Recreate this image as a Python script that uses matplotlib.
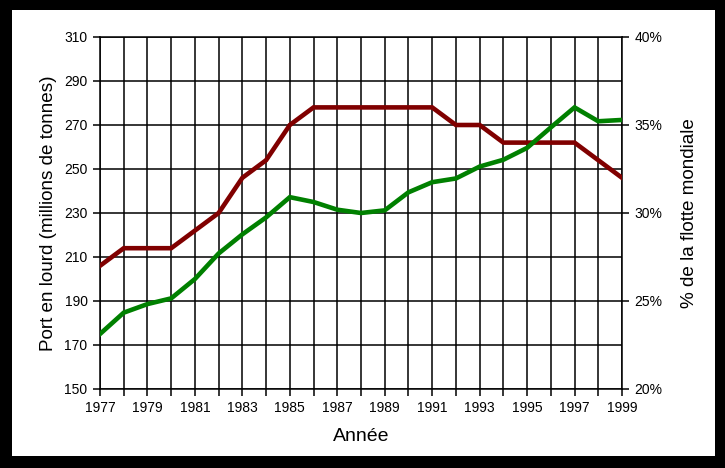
import numpy as np
import matplotlib.pyplot as plt
from matplotlib.patches import Rectangle
from matplotlib.ticker import FuncFormatter

plt.rcParams['font.family'] = ['Liberation Sans', 'DejaVu Sans']

years = list(range(1977, 2000))
# tonnage (millions de tonnes, port en lourd)
tonnage = [206, 214, 214, 214, 222, 230, 246, 254, 270, 278, 278, 278,
           278, 278, 278, 270, 270, 262, 262, 262, 262, 254, 246]
# share of world fleet, drawn on the left scale
share = [175, 184.7, 188.6, 191.2, 200, 211.6, 220.3, 228, 237.2, 235, 231.5, 230,
         231.2, 239.4, 244, 245.7, 251.1, 254.2, 259.6, 268.9, 278, 271.7, 272.3]

fig = plt.figure(figsize=(7.25, 4.68), dpi=100)
fig.patch.set_facecolor('black')
fig.add_artist(Rectangle((12/725, 1-456/468), (715-12)/725, (456-10)/468,
                         transform=fig.transFigure, facecolor='white',
                         edgecolor='none', zorder=0))

ax = fig.add_axes([100/725, 1-389/468, 522/725, 352/468])
ax.plot(years, tonnage, color='#800000', lw=3.3, solid_joinstyle='miter', zorder=3)
ax.plot(years, share, color='#008000', lw=3.3, solid_joinstyle='miter', zorder=3)

ax.set_xlim(1977, 1999)
ax.set_ylim(150, 310)
ax.set_yticks(range(150, 311, 20))
ax.set_xticks(range(1977, 2000))
ax.set_xticklabels([str(y) if (y - 1977) % 2 == 0 else '' for y in years])
ax.grid(True, color='black', lw=1.1)
ax.set_axisbelow(True)
for s in ax.spines.values():
    s.set_color('black')
    s.set_linewidth(1.1)
ax.tick_params(direction='out', length=5, width=1.1, labelsize=10, pad=4, colors='black')
ax.set_xlabel('Année', fontsize=14, labelpad=9)
ax.set_ylabel('Port en lourd (millions de tonnes)', fontsize=13.6, labelpad=5)

ax2 = ax.twinx()
ax2.set_ylim(20, 40)
ax2.set_yticks(range(20, 41, 5))
ax2.yaxis.set_major_formatter(FuncFormatter(lambda v, p: f'{int(v)}%'))
ax2.tick_params(direction='out', length=5, width=1.1, labelsize=10, pad=4)
ax2.set_ylabel('% de la flotte mondiale', fontsize=13.6, labelpad=13)
for s in ax2.spines.values():
    s.set_visible(False)

fig.savefig('out.png', dpi=100, facecolor=fig.get_facecolor())
